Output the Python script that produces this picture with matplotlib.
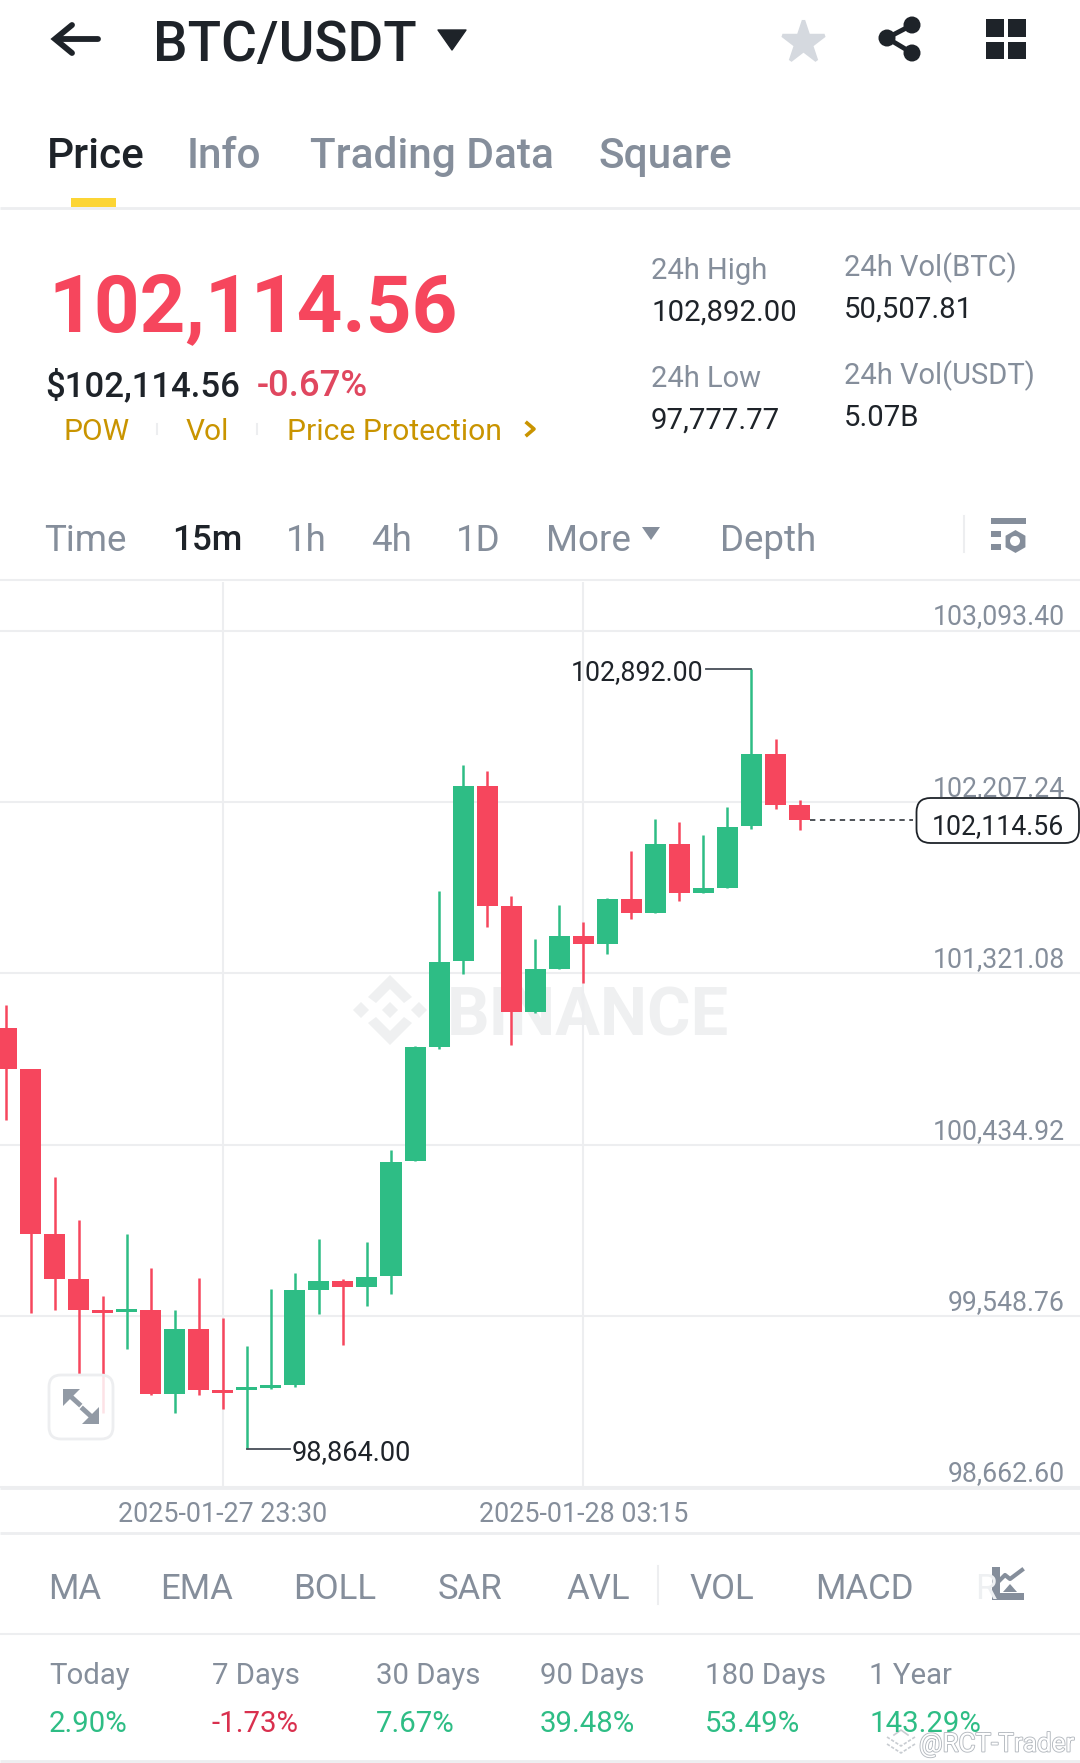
import matplotlib
matplotlib.use('Agg')
import matplotlib.pyplot as plt
import matplotlib.patheffects as pe
import numpy as np
from matplotlib.patches import FancyBboxPatch, Polygon, Rectangle, Circle

plt.rcParams['font.family'] = ['Roboto', 'DejaVu Sans']

# candles, 15 min each, first one at 21:15
opens = [101040.6, 100825.0, 99971.5, 99740.4, 99581.8, 99569.7, 99581.8, 99147.3, 99483.5, 99166.2,
         99164.5, 99174.9, 99192.1, 99685.2, 99728.3, 99697.3, 99754.2, 100349.1, 100940.4, 101382.2,
         102289.0, 101668.2, 101121.4, 101343.9, 101514.6, 101471.7, 101702.9, 101633.6, 101989.0, 101737.0,
         101759.8, 102080.5, 102453.0, 102189.0]
closes = [100825.0, 99971.5, 99740.4, 99581.8, 99566.3, 99587.0, 99147.3, 99483.5, 99167.9, 99150.7,
          99180.0, 99190.4, 99685.2, 99728.3, 99697.3, 99750.8, 100345.7, 100938.8, 101380.1, 102289.0,
          101668.2, 101121.4, 101343.9, 101514.6, 101471.7, 101702.9, 101633.6, 101989.0, 101737.0, 101759.8,
          102076.9, 102453.0, 102189.1, 102114.56]
highs = [101159.5, 100825.0, 100268.1, 100043.9, 99654.2, 99974.9, 99799.0, 99578.3, 99747.3, 99540.4,
         99393.8, 99687.0, 99773.2, 99945.6, 99738.7, 99930.1, 100406.0, 100945.7, 101744.3, 102399.2,
         102365.0, 101718.4, 101497.5, 101671.8, 101587.0, 101711.2, 101954.3, 102116.7, 102101.2, 102034.0,
         102178.8, 102892.0, 102530.6, 102216.6]
lows = [100561.2, 99564.6, 99578.3, 99247.3, 99049.0, 99380.0, 99138.6, 99047.3, 99142.1, 99069.6,
        98864.0, 99173.1, 99181.8, 99561.1, 99397.3, 99602.5, 99664.6, 100349.1, 100930.1, 101320.1,
        101561.1, 100949.2, 101118.3, 101343.9, 101273.5, 101418.4, 101601.0, 101633.6, 101695.7, 101733.9,
        101759.8, 102065.0, 102170.0, 102059.8]

price_ticks = [103093.40, 102207.24, 101321.08, 100434.92, 99548.76, 98662.60]
time_ticks = [9, 24]
time_labels = ['2025-01-27 23:30', '2025-01-28 03:15']
last_price = 102114.56
top_tabs = ['Price', 'Info', 'Trading Data', 'Square']
intervals = ['Time', '15m', '1h', '4h', '1D', 'More', 'Depth']
indicators = ['MA', 'EMA', 'BOLL', 'SAR', 'AVL', 'VOL', 'MACD']
period_names = ['Today', '7 Days', '30 Days', '90 Days', '180 Days', '1 Year']
period_changes = ['2.90%', '-1.73%', '7.67%', '39.48%', '53.49%', '143.29%']

RED = '#F6465D'
GREEN = '#2EBD85'
DARK = '#1E2329'
GRAY = '#858E9B'
GOLD = '#C99400'
LINE = '#EDEEF0'
MARK = '#EFF0F1'

fig = plt.figure(figsize=(10.8, 17.63), dpi=100, facecolor='white')


def pixel_axes(zorder):
    a = fig.add_axes([0, 0, 1, 1], zorder=zorder)
    a.set_xlim(0, 1080)
    a.set_ylim(1763, 0)
    a.axis('off')
    return a


bg = pixel_axes(0)
ui = pixel_axes(3)


def label(x, y, s, size, color=GRAY, ha='left', weight='normal', axes=None):
    return (axes or ui).text(x, y, s, fontsize=size, color=color, ha=ha, va='center_baseline', fontweight=weight)


def poly(a, cx, cy, pts, **kw):
    a.add_patch(Polygon([(cx + dx, cy + dy) for dx, dy in pts], closed=True, **kw))


# watermark under the candles
chevron = [(0, -35), (22, -13), (14, -7), (0, -21), (-14, -7), (-22, -13)]
small = [(0, -8), (8, 0), (0, 8), (-8, 0)]
poly(bg, 390, 1010, chevron, fc=MARK, ec='none')
poly(bg, 390, 1010, [(x, -y) for x, y in chevron], fc=MARK, ec='none')
for cx in [361, 390, 419]:
    poly(bg, cx, 1010, small, fc=MARK, ec='none')
label(447, 1011, 'BINANCE', 48, MARK, weight='bold', axes=bg)

# chart
ax = fig.add_axes([0, 1 - 1487.5 / 1763, 1, (1487.5 - 582) / 1763], zorder=1)
ax.patch.set_alpha(0)
ax.set_xlim(-0.27, 44.67)
ax.set_ylim(98662.60, 103344.3)
for side in ax.spines.values():
    side.set_visible(False)
ax.set_xticks(time_ticks)
ax.set_yticks(price_ticks)
ax.tick_params(length=0, labelbottom=False, labelleft=False)
ax.grid(True, color=LINE, lw=1.5)
ax.set_axisbelow(True)

xs = np.arange(len(opens))
colors = [GREEN if c >= o else RED for o, c in zip(opens, closes)]
ax.vlines(xs, lows, highs, colors=colors, lw=1.8, zorder=2)
body_low = np.minimum(opens, closes)
body_h = np.abs(np.array(closes) - np.array(opens))
ax.bar(xs, body_h, bottom=body_low, width=0.875, color=colors, lw=0, zorder=3)

# price scale labels sit just above their grid line
for p in price_ticks:
    ax.annotate(f'{p:,.2f}', (1, p), xycoords=('axes fraction', 'data'), xytext=(-11, 0), textcoords='offset points',
                ha='right', va='bottom', fontsize=19.2, color=GRAY)

# high / low markers
ax.plot([31, 31 - 1.9], [highs[31], highs[31]], color='#474D57', lw=1.3, zorder=2)
ax.plot([10, 10 + 1.8], [lows[10], lows[10]], color='#474D57', lw=1.3, zorder=2)
ax.annotate(f'{highs[31]:,.2f}', (31 - 1.9, highs[31]), xytext=(-2, 0), textcoords='offset points', ha='right',
            va='center_baseline', fontsize=19.3, color=DARK)
ax.annotate(f'{lows[10]:,.2f}', (10 + 1.8, lows[10]), xytext=(1, -0.5), textcoords='offset points', ha='left',
            va='center_baseline', fontsize=19.5, color=DARK)

# last price line
ax.plot([33.45, 37.73], [last_price, last_price], color=DARK, lw=1.1, ls=(0, (3.5, 3.0)), zorder=2)
ui.add_patch(FancyBboxPatch((916.5, 798), 162.5, 45, boxstyle='round,pad=0,rounding_size=14', fc='white', ec=DARK, lw=1.3))
label(1064, 824, f'{last_price:,.2f}', 19.2, DARK, ha='right')

# dates under the chart
for t, s in zip(time_ticks, time_labels):
    ax.annotate(s, (t, 0), xycoords=('data', 'axes fraction'), xytext=(0, -17), textcoords='offset points',
                ha='center', va='center_baseline', fontsize=19.4, color=GRAY)

# dividers
for y, lw in [(208, 2.0), (579.5, 1.5), (1487.5, 2.0), (1533, 2.0), (1634, 1.5), (1761, 2.0)]:
    ui.plot([0, 1080], [y, y], color=LINE, lw=lw, solid_capstyle='butt')

# header
ui.plot([98, 57], [39, 39], color=DARK, lw=4.2, solid_capstyle='round')
ui.plot([72, 55, 72], [25, 39, 53], color=DARK, lw=4.2, solid_capstyle='round', solid_joinstyle='miter')
label(153, 40, 'BTC/USDT', 39.5, DARK, weight='medium')
ui.add_patch(Polygon([(438, 30), (466, 30), (452, 50)], closed=True, fc=DARK, ec=DARK, lw=1, joinstyle='round'))
ui.plot([803], [42], marker='*', ms=32, color='#D5D9DF', mec='#D5D9DF', mew=2.5, mfc='#D5D9DF')
for x0, y0 in [(912, 25), (887, 38), (912, 53)]:
    ui.add_patch(Circle((x0, y0), 8.5, fc=DARK, ec='none'))
ui.plot([912, 887, 912], [25, 38, 53], color=DARK, lw=3.5)
for x0 in [986, 1008]:
    for y0 in [19, 41.5]:
        ui.add_patch(Rectangle((x0, y0), 17.5, 17.5, fc=DARK, ec='none'))

# tabs
for s, x, c in zip(top_tabs, [47, 187, 310, 598], [DARK, GRAY, GRAY, GRAY]):
    label(x, 152, s, 30.5, c, weight='medium')
ui.add_patch(Rectangle((71, 198), 45, 9, fc='#FCD535', ec='none'))

# price block
label(48, 302, '102,114.56', 57.5, RED, weight='bold')
label(45, 382, '$102,114.56', 25, DARK, weight='medium')
label(257, 382, '-0.67%', 26.3, '#E0475F', weight='medium')
label(64, 429, 'POW', 21.5, GOLD)
label(186, 429, 'Vol', 21.5, GOLD)
label(287, 429, 'Price Protection', 21.7, GOLD)
ui.plot([527, 534, 527], [423, 429, 435], color=GOLD, lw=2.6)
for x in [157, 257]:
    ui.plot([x, x], [424, 434], color=LINE, lw=1.5)

label(651, 268, '24h High', 21, GRAY)
label(651, 310, '102,892.00', 21.2, DARK)
label(651, 376, '24h Low', 21, GRAY)
label(651, 418, '97,777.77', 21.2, DARK)
label(844, 264, '24h Vol(BTC)', 21, GRAY)
label(844, 307, '50,507.81', 21.2, DARK)
label(844, 372, '24h Vol(USDT)', 21, GRAY)
label(844, 415, '5.07B', 21.2, DARK)

# interval row
for s, x in zip(intervals, [44, 172, 286, 371, 456, 546, 720]):
    if s == '15m':
        label(x, 537, s, 25.3, DARK, weight='medium')
    else:
        label(x, 537, s, 26.5, GRAY)
ui.add_patch(Polygon([(642, 527), (660, 527), (651, 540)], closed=True, fc=GRAY, ec='none'))
ui.plot([964, 964], [516, 552], color=LINE, lw=1.5)
ui.add_patch(Rectangle((991, 518), 35, 5.5, fc=GRAY, ec='none'))
ui.add_patch(Rectangle((991, 531), 10, 5.5, fc=GRAY, ec='none'))
ui.add_patch(Rectangle((991, 544), 10, 5.5, fc=GRAY, ec='none'))
ui.plot([1015], [541], marker='h', ms=16.5, mfc=GRAY, mec='none', zorder=4)
ui.add_patch(Circle((1015, 541), 5, fc='white', ec='none', zorder=5))

# expand button
ui.add_patch(FancyBboxPatch((49, 1375), 64, 64, boxstyle='round,pad=0,rounding_size=12', fc=(1, 1, 1, 0.85), ec=LINE, lw=2))
ui.add_patch(Polygon([(63, 1389), (80, 1389), (63, 1406)], closed=True, fc='#929AA5', ec='none'))
ui.add_patch(Polygon([(99, 1424), (82, 1424), (99, 1407)], closed=True, fc='#929AA5', ec='none'))
ui.plot([68, 79], [1394, 1404], color='#929AA5', lw=3.5)
ui.plot([83, 94], [1409, 1419], color='#929AA5', lw=3.5)

# indicator row
for s, x in zip(indicators, [48, 160, 293, 438, 566, 689, 815]):
    label(x, 1586, s, 25, GRAY)
ui.plot([658, 658], [1566, 1604], color=LINE, lw=1.5)
label(975, 1586, 'R', 25, '#EEF0F2')
ui.add_patch(Rectangle((992, 1567), 8, 33, fc=GRAY, ec='none'))
ui.add_patch(Rectangle((992, 1593), 32, 7, fc=GRAY, ec='none'))
ui.plot([997, 1005, 1010, 1022], [1583, 1575, 1579, 1570], color=GRAY, lw=3)
ui.add_patch(Polygon([(1003, 1592), (1017, 1592), (1010, 1584)], closed=True, fc=GRAY, ec='none'))

# period changes
for s, v, x in zip(period_names, period_changes, [49, 212, 376, 540, 705, 869]):
    label(x, 1673, s, 21.2, GRAY)
    label(x, 1721, v, 21.2, '#D9304E' if v.startswith('-') else GREEN)

# corner watermark
for dy in [0, 7]:
    ui.plot([887, 901, 915], [1737 + dy, 1746 + dy, 1737 + dy], color='#C9CDD2', lw=1.2, ls=(0, (2, 1)))
ui.plot([894, 901, 908], [1735, 1730, 1735], color='#C9CDD2', lw=1.2)
t = label(919, 1742, '@RCT-Trader', 18.8, 'white')
t.set_path_effects([pe.withStroke(linewidth=1.3, foreground='#B4B9BF')])

fig.savefig('out.png', dpi=100, facecolor='white')
